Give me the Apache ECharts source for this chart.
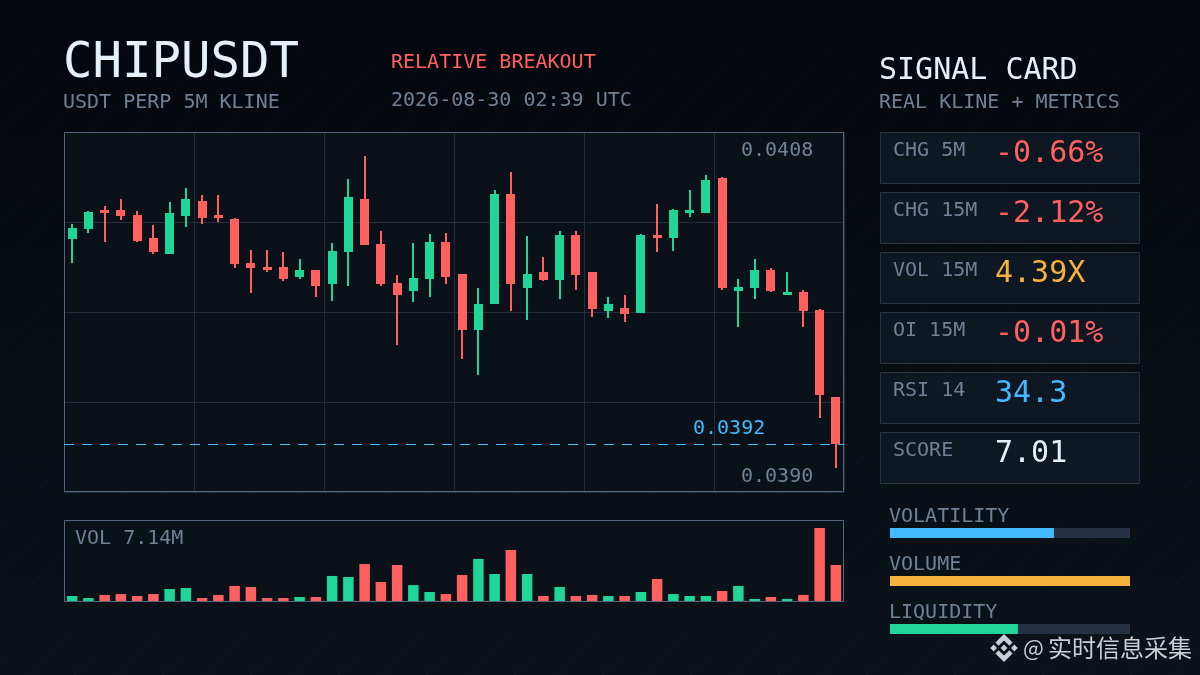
<!DOCTYPE html>
<html>
<head>
<meta charset="utf-8">
<style>html,body{margin:0;padding:0;background:#05080e}#c{width:1200px;height:675px}</style>
<script src="https://cdn.jsdelivr.net/npm/echarts@6/dist/echarts.min.js"></script>
</head>
<body>
<div id="c"></div>
<script>
const opens=[0.040317,0.040373,0.040479,0.040479,0.040451,0.040322,0.040233,0.040446,0.040530,0.040451,0.040429,0.040182,0.040160,0.040160,0.040104,0.040143,0.040065,0.040244,0.040541,0.040289,0.040070,0.040026,0.040093,0.040300,0.040121,0.039807,0.039953,0.040569,0.040042,0.040132,0.040087,0.040339,0.040132,0.039914,0.039930,0.039902,0.040339,0.040322,0.040462,0.040462,0.040658,0.040026,0.040042,0.040143,0.040003,0.040020,0.039919,0.039432];
const closes=[0.040378,0.040468,0.040462,0.040446,0.040306,0.040244,0.040462,0.040541,0.040434,0.040434,0.040177,0.040154,0.040143,0.040093,0.040143,0.040054,0.040250,0.040552,0.040283,0.040065,0.040003,0.040098,0.040300,0.040104,0.039807,0.039953,0.040569,0.040065,0.040121,0.040087,0.040339,0.040115,0.039925,0.039953,0.039897,0.040339,0.040322,0.040479,0.040479,0.040647,0.040042,0.040048,0.040143,0.040026,0.040020,0.039914,0.039443,0.039169];
const lows=[0.040182,0.040350,0.040300,0.040423,0.040300,0.040233,0.040233,0.040384,0.040401,0.040412,0.040154,0.040014,0.040132,0.040082,0.040093,0.039992,0.039970,0.040054,0.040283,0.040054,0.039723,0.039964,0.039992,0.040065,0.039645,0.039555,0.039953,0.039914,0.039863,0.040082,0.039981,0.040031,0.039880,0.039874,0.039852,0.039902,0.040244,0.040250,0.040440,0.040462,0.040031,0.039824,0.039981,0.040020,0.040003,0.039824,0.039314,0.039034];
const highs=[0.040401,0.040474,0.040502,0.040541,0.040474,0.040395,0.040524,0.040602,0.040563,0.040563,0.040434,0.040255,0.040255,0.040244,0.040205,0.040143,0.040294,0.040653,0.040782,0.040362,0.040115,0.040294,0.040345,0.040350,0.040121,0.040042,0.040591,0.040692,0.040334,0.040216,0.040362,0.040362,0.040132,0.039992,0.040003,0.040345,0.040513,0.040485,0.040591,0.040675,0.040664,0.040093,0.040205,0.040154,0.040132,0.040031,0.039925,0.039432];
const volumes=[0.49,0.29,0.59,0.68,0.49,0.68,1.17,1.27,0.29,0.59,1.47,1.37,0.29,0.29,0.39,0.39,2.45,2.35,3.62,1.86,3.52,1.56,0.88,0.68,2.54,4.11,2.64,4.99,2.64,0.49,1.37,0.49,0.59,0.49,0.49,0.88,2.15,0.68,0.49,0.49,0.98,1.47,0.20,0.39,0.20,0.59,7.14,3.52];
const candleIndex=opens.map((_,i)=>i);
const lastClose=closes[closes.length-1];

const meterNames=['VOLATILITY','VOLUME','LIQUIDITY'];
const meterValues=[68.3,100,53.3];
const cardLabels=['CHG 5M','CHG 15M','VOL 15M','OI 15M','RSI 14','SCORE'];
const cardValues=['-0.66%','-2.12%','4.39X','-0.01%','34.3','7.01'];

const UP='#1fd698',DOWN='#ff6060',BLUE='#45b9ff',ORANGE='#f7b13f',WHITE='#e6f0fb',MUTED='#6f8097';
const cardColors=[DOWN,DOWN,ORANGE,DOWN,BLUE,WHITE];
const meterColors=[BLUE,ORANGE,UP];
const MONO='"DejaVu Sans Mono", monospace';

function txt(x,y,text,size,fill,family){
  const dy=family?0:(size>=40?4:(size>=30?3:2));
  return {type:'text',z:20,silent:true,x:x,y:y+dy,style:{text:text,fill:fill,font:size+'px '+(family||MONO),align:'left',verticalAlign:'middle'}};
}
const graphics=[];
// diagonal background hairlines
for(let k=45;k<1900;k+=44){
  graphics.push({type:'line',z:-10,silent:true,shape:{x1:k,y1:0,x2:k-675,y2:675},style:{stroke:'rgba(120,150,190,0.05)',lineWidth:1}});
}
// plot frames
graphics.push(
  {type:'rect',z:1,silent:true,shape:{x:64.5,y:132.5,width:779,height:359},style:{fill:'none',stroke:'#56657f',lineWidth:1}},
  {type:'rect',z:1,silent:true,shape:{x:64.5,y:520.5,width:779,height:81},style:{fill:'none',stroke:'#56657f',lineWidth:1}}
);
graphics.push(
  txt(63,60,'CHIPUSDT',49,WHITE),
  txt(63,101,'USDT PERP 5M KLINE',20,MUTED),
  txt(391,61,'RELATIVE BREAKOUT',20,DOWN),
  txt(391,99,'2026-08-30 02:39 UTC',20,MUTED),
  txt(879,68,'SIGNAL CARD',30,WHITE),
  txt(879,101,'REAL KLINE + METRICS',20,MUTED),
  txt(741,149,'0.0408',20,MUTED),
  txt(741,475,'0.0390',20,MUTED),
  txt(693,427,'0.0392',20,BLUE),
  txt(75,537,'VOL 7.14M',20,MUTED)
);
cardLabels.forEach((l,i)=>{
  const top=132+i*60;
  graphics.push({type:'rect',z:1,silent:true,shape:{x:880.5,y:top+0.5,width:259,height:51},style:{fill:'#0f1722',stroke:'#263346',lineWidth:1}});
  graphics.push(txt(893,top+17,l,20,MUTED));
  graphics.push(txt(995,top+19,cardValues[i],30,cardColors[i]));
});
meterNames.forEach((n,i)=>graphics.push(txt(889,515+i*48,n,20,MUTED)));
// watermark
const lg={cx:1004,cy:648};
const pts=a=>a.map(p=>[lg.cx+p[0],lg.cy+p[1]]);
[
  [[0,-3.4],[3.4,0],[0,3.4],[-3.4,0]],
  [[-10.4,-3.4],[-7,0],[-10.4,3.4],[-13.8,0]],
  [[10.4,-3.4],[13.8,0],[10.4,3.4],[7,0]],
  [[0,-14],[8.6,-5.4],[5.4,-2.2],[0,-7.6],[-5.4,-2.2],[-8.6,-5.4]],
  [[0,14],[8.6,5.4],[5.4,2.2],[0,7.6],[-5.4,2.2],[-8.6,5.4]]
].forEach(p=>graphics.push({type:'polygon',z:20,silent:true,shape:{points:pts(p)},style:{fill:'#c9ced4'}}));
graphics.push(txt(1023,648,'@',22,'#c9ced4','"Noto Sans CJK SC", sans-serif'));
graphics.push(txt(1048,648,'实时信息采集',24,'#c9ced4','"Noto Sans CJK SC", sans-serif'));

const option={
  animation:false,
  backgroundColor:{type:'linear',x:0,y:0,x2:0,y2:1,colorStops:[{offset:0,color:'#04070d'},{offset:1,color:'#0b1219'}]},
  graphic:graphics,
  grid:[
    {left:64,top:132,width:780,height:360,show:true,backgroundColor:'#0b1119',borderWidth:0},
    {left:64,top:520,width:780,height:81,show:true,backgroundColor:'#0b1119',borderWidth:0},
    {left:890,top:509,width:240,height:144}
  ],
  xAxis:[
    {type:'category',gridIndex:0,data:candleIndex,boundaryGap:true,
      axisLine:{show:false},axisTick:{show:false},axisLabel:{show:false},
      splitLine:{show:true,interval:(i)=>i%8===0,lineStyle:{color:'#232c3b',width:1}}},
    {type:'category',gridIndex:1,data:candleIndex,boundaryGap:true,axisLine:{show:false},axisTick:{show:false},axisLabel:{show:false},splitLine:{show:false}},
    {type:'value',gridIndex:2,min:0,max:100,axisLine:{show:false},axisTick:{show:false},axisLabel:{show:false},splitLine:{show:false}}
  ],
  yAxis:[
    {type:'value',gridIndex:0,min:0.0389,max:0.040916,scale:true,axisLine:{show:false},axisTick:{show:false},axisLabel:{show:false},splitLine:{show:false}},
    {type:'value',gridIndex:1,min:0,max:7.92,axisLine:{show:false},axisTick:{show:false},axisLabel:{show:false},splitLine:{show:false}},
    {type:'category',gridIndex:2,inverse:true,data:meterNames,axisLine:{show:false},axisTick:{show:false},axisLabel:{show:false},splitLine:{show:false}},
    {type:'value',gridIndex:0,min:0,max:4,interval:1,position:'right',axisLine:{show:false},axisTick:{show:false},axisLabel:{show:false},splitLine:{show:true,lineStyle:{color:'#232c3b',width:1}}}
  ],
  series:[
    {type:'custom',name:'CHIPUSDT',xAxisIndex:0,yAxisIndex:0,z:5,silent:true,
      data:candleIndex.map(i=>[i,opens[i],closes[i],lows[i],highs[i]]),
      encode:{x:0,y:[1,2,3,4]},
      renderItem:function(params,api){
        const i=api.value(0),o=api.value(1),c=api.value(2),l=api.value(3),h=api.value(4);
        const cx=api.coord([i,o])[0];
        const yo=api.coord([i,o])[1],yc=api.coord([i,c])[1],yl=api.coord([i,l])[1],yh=api.coord([i,h])[1];
        const fill=c>=o?UP:DOWN;
        const top=Math.round(Math.min(yo,yc)),bot=Math.round(Math.max(yo,yc));
        const wt=Math.round(yh),wb=Math.round(yl);
        return {type:'group',children:[
          {type:'rect',shape:{x:Math.round(cx)-1,y:wt,width:2,height:wb-wt},style:{fill:fill}},
          {type:'rect',shape:{x:Math.round(cx-4.5),y:top,width:9,height:Math.max(bot-top,1)},style:{fill:fill}}
        ]};
      }
    },
    {type:'line',name:'LAST',xAxisIndex:0,yAxisIndex:0,z:6,silent:true,data:[],showSymbol:false,
      markLine:{silent:true,symbol:'none',label:{show:false},animation:false,precision:6,
        lineStyle:{color:BLUE,type:[10,8],width:1},data:[{yAxis:lastClose}]}
    },
    {type:'bar',name:'VOL',xAxisIndex:1,yAxisIndex:1,barWidth:10.5,silent:true,z:5,
      data:volumes.map((v,i)=>({value:v,itemStyle:{color:closes[i]>=opens[i]?UP:DOWN}}))},
    {type:'bar',name:'METERS',xAxisIndex:2,yAxisIndex:2,barWidth:10,silent:true,
      showBackground:true,backgroundStyle:{color:'#243044'},
      data:meterValues.map((v,i)=>({value:v,itemStyle:{color:meterColors[i]}}))}
  ]
};
echarts.init(document.getElementById('c'),null,{renderer:'canvas',devicePixelRatio:1}).setOption(option);
</script>
</body>
</html>
